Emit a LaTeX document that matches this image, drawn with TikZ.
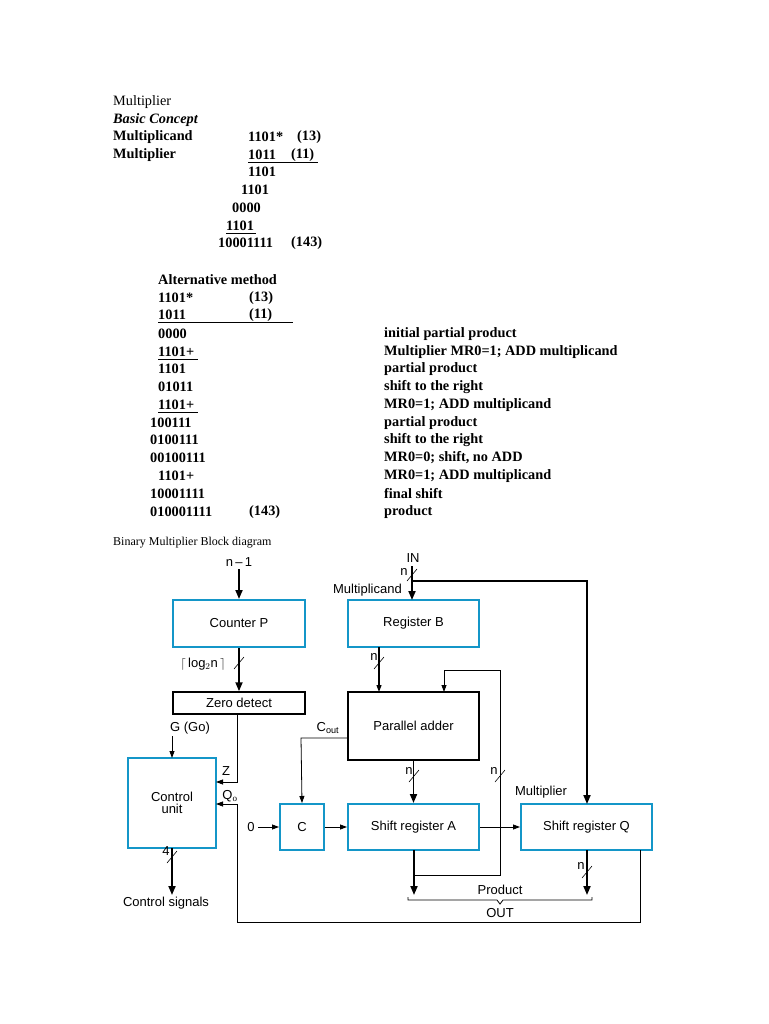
\documentclass[tikz,border=0pt]{standalone}
\usepackage{fontspec}
\setmainfont{Liberation Serif}
\setsansfont{Liberation Sans}
\usetikzlibrary{arrows.meta,decorations.pathreplacing}
\definecolor{blu}{RGB}{20,150,200}
\begin{document}
\begin{tikzpicture}[x=1pt,y=-1pt,
  t/.style={anchor=west,inner sep=0pt,font=\fontsize{14.3}{16}\selectfont\bfseries},
  tr/.style={anchor=west,inner sep=0pt,font=\fontsize{14.3}{16}\selectfont},
  lab/.style={inner sep=0pt,font=\sffamily\fontsize{13}{14}\selectfont},
  bbox/.style={draw=blu,line width=2pt,font=\sffamily\fontsize{13}{14}\selectfont,inner sep=0pt},
  kbox/.style={draw=black,line width=1.5pt,font=\sffamily\fontsize{13}{14}\selectfont,inner sep=0pt},
  thin/.style={line width=0.8pt,-{Triangle[length=7pt,width=5pt]}},
  thk/.style={line width=1.8pt,-{Triangle[length=9pt,width=7pt]}},
  ln/.style={line width=0.8pt},
  sl/.style={line width=0.6pt}]
\useasboundingbox (0,0) rectangle (768,1024);
% ---- text part
\node[tr] (h1) at (113,102) {Multiplier};
\node[t,font=\fontsize{14.3}{16}\selectfont\bfseries\itshape] (h2) at (113,120) {Basic Concept};
\node[t] (m1) at (113,137) {Multiplicand};
\node[t] (m1a) at (248,137) {1101*};
\node[t] (m1b) at (297,137) {(13)};
\node[t] (m2) at (113,155) {Multiplier};
\node[t] (m2a) at (248,155) {1011};
\node[t] (m2b) at (291,155) {(11)};
\draw[ln] (248,162.5) -- (318,162.5);
\node[t] (p1) at (248,172) {1101};
\node[t] (p2) at (241,190) {1101};
\node[t] (p3) at (232,208) {0000};
\node[t] (p4) at (226,226) {1101};
\draw[ln] (226,233.5) -- (256,233.5);
\node[t] (p5) at (218,243) {10001111};
\node[t] (p5b) at (291,243) {(143)};
\node[t] (a0) at (158,280) {Alternative method};
\node[t] (a1) at (158,298) {1101*};
\node[t] (a1b) at (249,298) {(13)};
\node[t] (a2) at (158,315) {1011};
\node[t] (a2b) at (249,315) {(11)};
\draw[ln] (158,322.5) -- (293,322.5);
\foreach \y/\l/\xx/\r in {334/0000/158/initial partial product,
  352/1101+/158/Multiplier MR0=1; ADD multiplicand,
  369/1101/158/partial product,
  387/01011/158/shift to the right,
  405/1101+/158/MR0=1; ADD multiplicand,
  423/100111/150/partial product,
  440/0100111/150/shift to the right,
  458/00100111/150/MR0=0; shift{,} no ADD,
  476/1101+/158/MR0=1; ADD multiplicand,
  494/10001111/150/final shift,
  512/010001111/150/product}
  {\node[t] at (\xx,\y) {\l}; \node[t] at (384,\y) {\r};}
\draw[ln] (158,359.5) -- (198,359.5);
\draw[ln] (158,412.5) -- (198,412.5);
\node[t] (a14) at (249,512) {(143)};
\node[tr,font=\fontsize{12}{13}\selectfont] (cap) at (113,543) {Binary Multiplier Block diagram};
% ---- block diagram
\node[bbox,minimum width=132pt,minimum height=47pt] (cp) at (239,623.5) {Counter P};
\node[bbox,minimum width=131pt,minimum height=47pt] (rb) at (413.5,623.5) {Register B};
\node[kbox,minimum width=132pt,minimum height=22pt] (zd) at (239,703) {Zero detect};
\node[kbox,minimum width=131pt,minimum height=68pt] (pa) at (413.5,726) {Parallel adder};
\node[bbox,minimum width=88pt,minimum height=90pt,align=center] (cu) at (172,803) {Control\\[-2pt]unit};
\node[bbox,minimum width=44pt,minimum height=46pt] (c) at (302,827) {C};
\node[bbox,minimum width=131pt,minimum height=46pt] (sa) at (413.5,827) {Shift register A};
\node[bbox,minimum width=131pt,minimum height=46pt] (sq) at (586.5,827) {Shift register Q};
% labels
\node[lab] (nm1) at (239,562) {n\,--\,1};
\node[lab] (in) at (413,558) {IN};
\node[lab,anchor=east] (mc) at (402,590) {Multiplicand};
\node[lab] (log) at (203,664) {$\lceil$\,log$_2$n\,$\rceil$};
\node[lab] (g) at (190,728) {G (Go)};
\node[lab] (z) at (226,771) {Z};
\node[lab] (q0) at (230,796) {Q$_\mathrm{o}$};
\node[lab] (cout) at (328,728) {C\textsubscript{out}};
\node[lab] (zero) at (251,827) {0};
\node[lab] (mul) at (541,792) {Multiplier};
\node[lab] (cs) at (166,903) {Control signals};
\node[lab] (prod) at (500,890) {Product};
\node[lab] (out) at (500,913) {OUT};
\coordinate (nm1b) at (239,569);
% connectors
\draw[thk] (nm1b) -- (cp);
\draw[thk] (cp) -- (zd);
\draw[thk] (412,566) -- (412,600);
\draw[thk] (412,581) -- (587,581) -- (587,804);
\draw[thin,line width=1.2pt] (379,647) -- (379,692);
\draw[thk] (pa) -- (sa);
\draw[thk] (414,850) -- (414,895);
\draw[thk] (587,850) -- (587,895);
\draw[thk] (172,848) -- (172,895);
\draw[thin] (414,875) -- (500,875) -- (500,670) -- (444,670) -- (444,692);
\draw[thin] (348,738) -- (301,738) -- (c.north);
\draw[thin] (258,827) -- (c.west);
\draw[thin] (c) -- (sa);
\draw[thin] (sa) -- (sq);
\draw[thin] (237,714) -- (237,782) -- (216,782);
\draw[thin] (640,850) -- (640,922) -- (237,922) -- (237,804) -- (216,804);
\draw[thin] (172,736) -- (172,758);
% slashes
\foreach \x/\y in {239/663, 379/663, 414/776, 500/776, 587/872, 172/857, 412/575}
  \draw[sl] (\x-5,\y+6) -- (\x+5,\y-6);
\node[lab] at (374,657) {n};
\node[lab] at (409,771) {n};
\node[lab] at (494,771) {n};
\node[lab] at (581,866) {n};
\node[lab] at (166,851) {4};
\node[lab] at (404,572) {n};
% brace
\draw[ln] (408,897) -- (408,900) -- (497,900) -- (500,904) -- (503,900) -- (592,900) -- (592,897);
\end{tikzpicture}
\end{document}
